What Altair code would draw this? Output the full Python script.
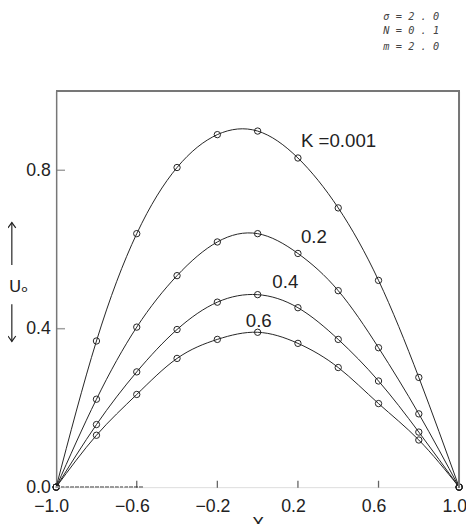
import altair as alt
import pandas as pd

# ---- data ----
xs = [-1.0, -0.8, -0.6, -0.4, -0.2, 0.0, 0.2, 0.4, 0.6, 0.8, 1.0]
u_k0001 = [0.0, 0.369, 0.640, 0.807, 0.890, 0.899, 0.831, 0.705, 0.522, 0.277, 0.0]
u_k02 = [0.0, 0.222, 0.404, 0.534, 0.619, 0.640, 0.590, 0.496, 0.352, 0.185, 0.0]
u_k04 = [0.0, 0.158, 0.291, 0.398, 0.467, 0.486, 0.453, 0.373, 0.268, 0.139, 0.0]
u_k06 = [0.0, 0.131, 0.234, 0.325, 0.373, 0.391, 0.363, 0.302, 0.211, 0.119, 0.0]
series_names = ["K=0.001", "K=0.2", "K=0.4", "K=0.6"]

curve_labels = ["K =0.001", "0.2", "0.4", "0.6"]
curve_label_x = [0.215, 0.215, 0.073, -0.059]
curve_label_y = [0.874, 0.631, 0.517, 0.420]

param_labels = ["σ  =   2 . 0", "N  =   0 . 1", "m  =   2 . 0"]
param_x = [0.624, 0.624, 0.624]
param_y = [1.186, 1.152, 1.111]

x_tick_labels = [-1.0, -0.6, -0.2, 0.2, 0.6, 1.0]
x_inner_ticks = [-0.6, -0.2, 0.2, 0.6]
y_tick_labels = [0.0, 0.4, 0.8]
y_inner_ticks = [0.4, 0.8]

ytitle_text = ["Uₒ"]
ytitle_x = [-1.187]
ytitle_y = [0.504]
arrow_x = [-1.22, -1.22]
arrow_tail = [0.561, 0.462]
arrow_tip = [0.668, 0.368]

# ---- tables ----
rows = []
for name, ys in zip(series_names, [u_k0001, u_k02, u_k04, u_k06]):
    for x, y in zip(xs, ys):
        rows.append({"series": name, "x": x, "u": y})
df = pd.DataFrame(rows)
lab_df = pd.DataFrame({"t": curve_labels, "x": curve_label_x, "u": curve_label_y})
par_df = pd.DataFrame({"t": param_labels, "x": param_x, "u": param_y})
xt_df = pd.DataFrame({"x": x_inner_ticks, "u": [0.0] * len(x_inner_ticks)})
yt_df = pd.DataFrame({"x": [-1.0] * len(y_inner_ticks), "u": y_inner_ticks})
yti_df = pd.DataFrame({"t": ytitle_text, "x": ytitle_x, "u": ytitle_y})
arr_df = pd.DataFrame({"x": arrow_x, "tail": arrow_tail, "tip": arrow_tip})

INK = "#222222"
FRAME = "#777777"
FONT = "Liberation Sans"

xscale = alt.Scale(domain=[-1, 1], nice=False, zero=False)
yscale = alt.Scale(domain=[0, 1], nice=False, zero=False)

X = alt.X("x:Q", scale=xscale, axis=alt.Axis(
    values=x_tick_labels, format=".1f", ticks=False, domain=False, grid=False,
    labelFont=FONT, labelFontSize=18, labelColor=INK, labelPadding=11,
    labelOffset=-5, labelFlush=False, labelOverlap=False,
    title="X", titleFont=FONT, titleFontSize=18, titleFontWeight="normal",
    titleColor=INK, titlePadding=0))
Y = alt.Y("u:Q", scale=yscale, axis=alt.Axis(
    values=y_tick_labels, format=".1f", ticks=False, domain=True,
    domainColor=FRAME, domainWidth=1.5, grid=False,
    labelFont=FONT, labelFontSize=18, labelColor=INK, labelPadding=6,
    labelFlush=False, labelOverlap=False, title=None))

base = alt.Chart(df)
lines = base.mark_line(interpolate="natural", color=INK, strokeWidth=1).encode(
    x=X, y=Y, detail="series:N")
pts = base.mark_point(shape="circle", filled=False, size=42, color=INK,
                      strokeWidth=1, opacity=1).encode(x="x:Q", y="u:Q")

frame_top = alt.Chart(df).mark_rule(color=FRAME, strokeWidth=1.5).encode(
    x=alt.datum(-1.0), x2=alt.datum(1.0), y=alt.datum(1.0))
frame_right = alt.Chart(df).mark_rule(color=FRAME, strokeWidth=1.5).encode(
    x=alt.datum(1.0), y=alt.datum(0.0), y2=alt.datum(1.0))
baseline_dots = alt.Chart(df).mark_rule(color="#999999", strokeWidth=1,
                                        strokeDash=[3, 2], opacity=0.7).encode(
    x=alt.datum(-1.0), x2=alt.datum(-0.57), y=alt.datum(0.0))

xticks = alt.Chart(xt_df).mark_tick(orient="vertical", size=7, thickness=1.3,
                                    color=INK, yOffset=-3).encode(x="x:Q", y="u:Q")
yticks = alt.Chart(yt_df).mark_tick(orient="horizontal", size=9, thickness=1.5,
                                    color=FRAME, xOffset=4.5).encode(x="x:Q", y="u:Q")

clabels = alt.Chart(lab_df).mark_text(align="left", baseline="middle", font=FONT,
                                      fontSize=19, color=INK).encode(
    x="x:Q", y="u:Q", text="t:N")
plabels = alt.Chart(par_df).mark_text(align="left", baseline="middle",
                                      font="DejaVu Sans Mono", fontStyle="italic",
                                      fontSize=10.5, color="#444444").encode(
    x="x:Q", y="u:Q", text="t:N")

ytitle = alt.Chart(yti_df).mark_text(align="center", baseline="middle",
                                     font="DejaVu Sans", fontSize=17, color=INK).encode(
    x="x:Q", y="u:Q", text="t:N")
shafts = alt.Chart(arr_df).mark_rule(color=INK, strokeWidth=1.2).encode(
    x="x:Q", y="tail:Q", y2="tip:Q")
head_up = alt.Chart(arr_df.iloc[[0]]).mark_point(
    shape="M-0.8,1.1L0,0L0.8,1.1", filled=False, size=100, color=INK,
    strokeWidth=1.2, opacity=1).encode(x="x:Q", y="tip:Q")
head_down = alt.Chart(arr_df.iloc[[1]]).mark_point(
    shape="M-0.8,-1.1L0,0L0.8,-1.1", filled=False, size=100, color=INK,
    strokeWidth=1.2, opacity=1).encode(x="x:Q", y="tip:Q")

chart = alt.layer(
    lines, pts, frame_top, frame_right, baseline_dots, xticks, yticks,
    clabels, plabels, ytitle, shafts, head_up, head_down
).properties(
    width=410, height=403,
    autosize=alt.AutoSizeParams(type="none"),
    padding={"left": 49, "top": 80, "right": 7, "bottom": 33},
).configure_view(stroke=None).configure(background="white")

chart.save("out.html", embed_options={"renderer": "svg", "actions": False})
